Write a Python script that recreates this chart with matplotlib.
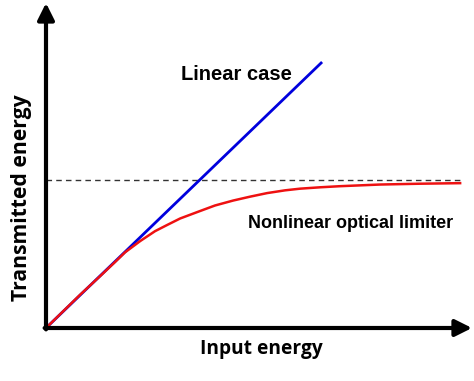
import matplotlib
matplotlib.use("Agg")
import matplotlib.pyplot as plt

# Data (arbitrary energy units)
linear_x = [0.0, 10.0]
linear_y = [0.0, 9.64]

limiter_x = [0.0, 1.23, 1.96, 2.50, 2.86, 3.41, 3.95, 4.38, 4.86, 5.58, 6.12, 6.78, 7.39, 8.01,
             8.66, 9.20, 9.93, 10.65, 12.10, 13.55, 15.0]
limiter_y = [0.0, 1.20, 1.88, 2.39, 2.74, 3.15, 3.51, 3.73, 3.97, 4.24, 4.44, 4.62, 4.76, 4.89,
             4.99, 5.05, 5.10, 5.14, 5.20, 5.23, 5.25]

threshold = 5.36
xmax, ymax = 15.43, 11.78

W, H = 474, 381
fig = plt.figure(figsize=(W/100, H/100), dpi=100)
ax = fig.add_axes([46/W, (H-328)/H, 426/W, 325/H])
ax.set_xlim(0, xmax)
ax.set_ylim(0, ymax)
ax.axis("off")

ax.plot(linear_x, linear_y, color="#0000dd", lw=2.0, solid_capstyle="butt", zorder=3)
ax.plot(limiter_x, limiter_y, color="#ee1111", lw=1.8, solid_joinstyle="round", zorder=4)
ax.plot([0, 15.0], [threshold, threshold], color="#333333", lw=1.0, ls=(0, (4, 3)), zorder=2)

arrow_kw = dict(arrowstyle="-|>,head_length=1.0,head_width=0.5", color="black", lw=3.0, shrinkA=0, shrinkB=0)
ax.annotate("", xy=(xmax, 0), xytext=(-0.05, 0), arrowprops=arrow_kw, annotation_clip=False, zorder=5)
ax.annotate("", xy=(0, ymax), xytext=(0, -0.05), arrowprops=arrow_kw, annotation_clip=False, zorder=5)

fig.text(236/W, 1-74/H, "Linear case", ha="center", va="center", fontsize=14.5,
         fontweight="bold", family="Liberation Sans")
fig.text(351/W, 1-224/H, "Nonlinear optical limiter", ha="center", va="center", fontsize=13,
         fontweight="bold", family="Liberation Sans")
fig.text(261/W, 1-349/H, "Input energy", ha="center", va="center", fontsize=13.8,
         fontweight="bold", family="Open Sans")
fig.text(22/W, 1-198/H, "Transmitted energy", ha="center", va="center", rotation=90,
         fontsize=15.2, fontweight="bold", family="Open Sans")

fig.savefig("out.png", dpi=100)
